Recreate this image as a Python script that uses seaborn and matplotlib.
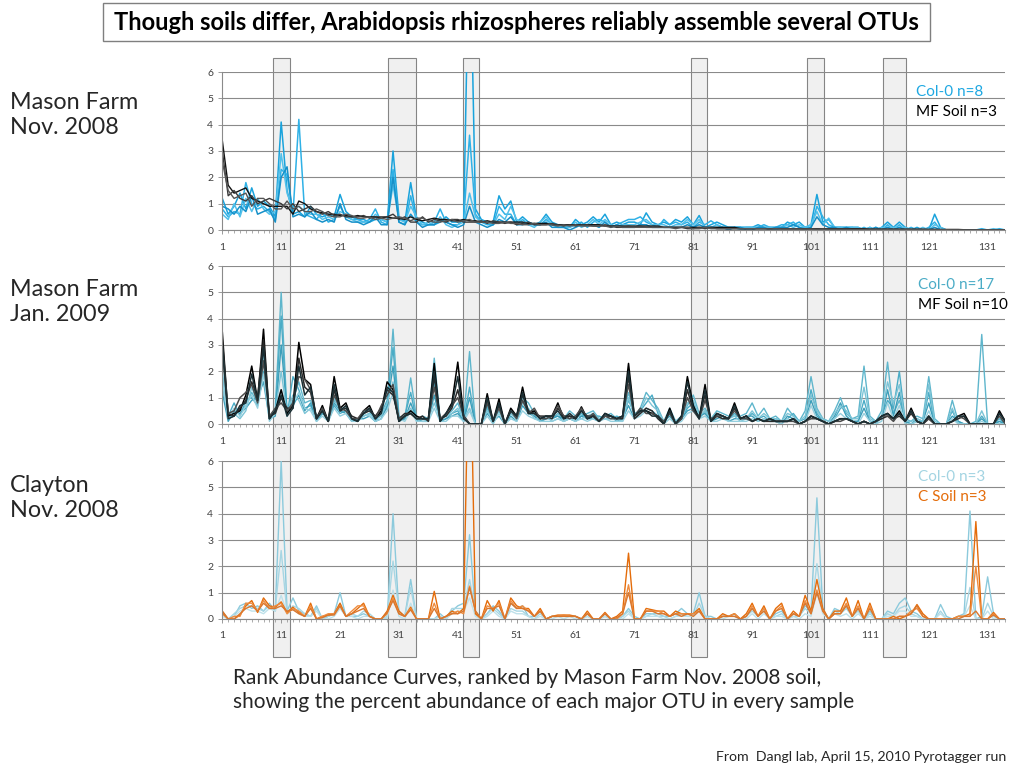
import numpy as np
import matplotlib
matplotlib.use("Agg")
import matplotlib.pyplot as plt
from matplotlib.patches import Rectangle
from matplotlib.ticker import MultipleLocator
from matplotlib.transforms import blended_transform_factory
import seaborn as sns

# percent abundance of each OTU (rank 1..134)
# --- Mason Farm Nov. 2008 ---
nov08_col0 = [
    [1.2,0.6,0.9,1.4,0.8,1.6,0.9,1.1,0.9,0.5, 4.1,1.5,0.6,0.7,0.5,0.9,0.6,0.5,0.6,0.5,
     1.35,0.7,0.5,0.4,0.4,0.3,0.4,0.4,0.3,3.0, 0.5,0.3,1.8,0.4,0.3,0.2,0.2,0.3,0.5,0.3,
     0.3,0.4,12.0,0.8,0.4,0.3,0.3,1.3,0.8,1.1, 0.3,0.5,0.3,0.2,0.3,0.6,0.3,0.2,0.2,0.1,
     0.4,0.2,0.3,0.5,0.3,0.6,0.2,0.3,0.2,0.3, 0.3,0.2,0.65,0.3,0.2,0.3,0.2,0.4,0.3,0.5,
     0.2,0.55,0.1,0.2,0.3,0.2,0.1,0.1,0.1,0.1, 0.1,0.2,0.1,0.1,0.1,0.1,0.3,0.2,0.3,0.1,
     0.2,1.35,0.3,0.4,0.1,0.1,0.1,0.1,0.1,0.0, 0.1,0.0,0.1,0.3,0.1,0.3,0.1,0.0,0.1,0.0,
     0.0,0.6,0.1,0.0,0.0,0.0,0.0,0.0,0.0,0.0,0.0,0.0,0.0,0.0],
    [0.8,0.5,0.7,0.6,1.8,1.0,0.8,0.9,0.7,0.4, 2.3,2.1,0.6,4.2,0.6,0.5,0.4,0.7,0.3,0.4,
     0.9,0.5,0.4,0.4,0.3,0.4,0.8,0.3,0.2,2.3, 0.3,0.2,1.3,0.3,0.2,0.2,0.3,0.8,0.3,0.2,
     0.2,0.4,3.6,0.6,0.3,0.2,0.2,0.9,0.6,0.6, 0.2,0.4,0.2,0.2,0.2,0.4,0.2,0.1,0.1,0.1,
     0.2,0.3,0.1,0.3,0.4,0.3,0.1,0.2,0.3,0.4, 0.4,0.5,0.3,0.2,0.1,0.4,0.2,0.3,0.2,0.3,
     0.1,0.3,0.2,0.35,0.2,0.1,0.1,0.1,0.1,0.1, 0.1,0.1,0.2,0.1,0.1,0.2,0.2,0.3,0.1,0.1,
     0.1,0.9,0.5,0.2,0.1,0.1,0.1,0.1,0.0,0.1, 0.0,0.1,0.0,0.2,0.0,0.2,0.0,0.1,0.0,0.0,
     0.1,0.3,0.0,0.0,0.0,0.0,0.0,0.0,0.0,0.05,0.0,0.0,0.05,0.0],
    [0.6,0.4,1.0,0.5,1.2,0.7,1.2,0.8,0.6,0.7, 2.9,1.4,0.8,0.9,0.7,0.6,0.6,0.4,0.5,0.4,
     0.7,0.6,0.4,0.3,0.3,0.3,0.6,0.4,0.3,1.7, 0.4,0.3,0.9,0.5,0.2,0.3,0.2,0.5,0.2,0.1,
     0.2,0.3,1.4,0.5,0.3,0.3,0.2,0.6,0.4,0.9, 0.4,0.3,0.2,0.1,0.3,0.5,0.2,0.2,0.1,0.1,
     0.3,0.1,0.2,0.4,0.2,0.4,0.2,0.1,0.2,0.2, 0.2,0.3,0.4,0.2,0.2,0.2,0.1,0.2,0.2,0.4,
     0.2,0.4,0.1,0.1,0.2,0.1,0.1,0.1,0.0,0.1, 0.1,0.1,0.1,0.1,0.0,0.1,0.2,0.1,0.2,0.1,
     0.2,0.7,0.2,0.45,0.1,0.1,0.0,0.1,0.1,0.0, 0.1,0.0,0.1,0.1,0.1,0.1,0.1,0.0,0.0,0.1,
     0.0,0.2,0.1,0.0,0.0,0.0,0.0,0.0,0.0,0.0,0.0,0.05,0.0,0.0],
    [0.9,0.8,0.6,0.9,0.7,1.3,0.6,0.7,0.8,0.3, 2.0,2.4,0.5,0.6,0.5,0.7,0.4,0.3,0.4,0.3,
     1.0,0.4,0.3,0.3,0.2,0.3,0.5,0.2,0.2,2.0, 0.3,0.2,0.6,0.3,0.1,0.2,0.2,0.4,0.3,0.2,
     0.1,0.2,0.9,0.3,0.2,0.1,0.2,0.4,0.3,0.5, 0.2,0.2,0.3,0.2,0.2,0.3,0.1,0.1,0.1,0.0,
     0.1,0.2,0.2,0.2,0.1,0.3,0.1,0.2,0.1,0.1, 0.1,0.2,0.2,0.1,0.1,0.1,0.1,0.1,0.1,0.2,
     0.1,0.2,0.1,0.1,0.1,0.1,0.0,0.1,0.1,0.0, 0.0,0.1,0.1,0.0,0.1,0.1,0.1,0.2,0.1,0.0,
     0.1,0.5,0.2,0.1,0.1,0.0,0.1,0.0,0.0,0.0, 0.0,0.1,0.0,0.1,0.0,0.1,0.0,0.0,0.0,0.0,
     0.0,0.1,0.0,0.0,0.0,0.0,0.0,0.0,0.0,0.0,0.0,0.0,0.0,0.0],
]
nov08_soil = [
    [3.4,1.7,1.4,1.5,1.6,1.2,1.1,1.0,0.9,0.9, 0.9,0.9,0.6,1.1,1.0,0.8,0.7,0.65,0.6,0.6,
     0.55,0.55,0.5,0.55,0.5,0.5,0.5,0.45,0.5,0.45, 0.45,0.4,0.5,0.4,0.35,0.4,0.45,0.4,0.4,0.35,
     0.35,0.4,0.35,0.35,0.3,0.35,0.3,0.3,0.3,0.3, 0.3,0.3,0.25,0.25,0.25,0.25,0.2,0.2,0.2,0.2,
     0.2,0.2,0.2,0.2,0.2,0.15,0.15,0.15,0.15,0.15, 0.15,0.15,0.15,0.15,0.15,0.1,0.1,0.1,0.1,0.1,
     0.1,0.1,0.1,0.1,0.1,0.1,0.1,0.1,0.05,0.05, 0.05,0.05,0.05,0.05,0.05,0.05,0.05,0.05,0.05,0.05,
     0.05,0.05,0.05,0.05,0.05,0.05,0.05,0.05,0.05,0.05, 0.03,0.03,0.03,0.03,0.03,0.03,0.03,0.03,0.03,0.03,
     0.02,0.02,0.02,0.02,0.02,0.02,0.01,0.0,0.0,0.0,0.0,0.0,0.0,0.0],
    [3.0,1.3,1.5,1.2,1.1,1.3,1.0,1.1,1.2,1.1, 1.0,0.8,1.0,0.7,0.8,0.9,0.7,0.6,0.7,0.55,
     0.6,0.5,0.5,0.5,0.55,0.45,0.5,0.5,0.5,0.6, 0.4,0.5,0.3,0.3,0.5,0.3,0.4,0.35,0.3,0.4,
     0.4,0.3,0.3,0.3,0.35,0.25,0.35,0.3,0.25,0.3, 0.2,0.25,0.3,0.2,0.2,0.2,0.25,0.2,0.15,0.2,
     0.15,0.2,0.2,0.15,0.15,0.2,0.15,0.1,0.1,0.15, 0.1,0.15,0.1,0.1,0.1,0.1,0.1,0.1,0.1,0.05,
     0.05,0.1,0.05,0.1,0.05,0.05,0.05,0.05,0.05,0.05, 0.05,0.05,0.05,0.05,0.05,0.05,0.05,0.05,0.05,0.05,
     0.05,0.03,0.05,0.03,0.03,0.03,0.03,0.03,0.03,0.03, 0.03,0.03,0.03,0.03,0.03,0.02,0.02,0.02,0.02,0.02,
     0.02,0.02,0.01,0.01,0.01,0.01,0.0,0.0,0.0,0.0,0.0,0.0,0.0,0.0],
    [2.6,1.5,1.2,1.3,1.4,0.9,1.2,1.2,1.0,0.8, 0.8,1.1,0.8,0.9,0.7,0.7,0.8,0.7,0.55,0.5,
     0.5,0.6,0.55,0.45,0.45,0.5,0.4,0.45,0.4,0.45, 0.5,0.45,0.35,0.45,0.45,0.35,0.3,0.3,0.35,0.4,
     0.3,0.35,0.4,0.3,0.3,0.3,0.25,0.25,0.3,0.25, 0.25,0.2,0.2,0.25,0.2,0.2,0.2,0.15,0.2,0.15,
     0.2,0.15,0.15,0.15,0.15,0.15,0.1,0.15,0.1,0.1, 0.1,0.1,0.1,0.1,0.1,0.1,0.1,0.05,0.1,0.1,
     0.05,0.05,0.1,0.05,0.05,0.05,0.05,0.05,0.05,0.05, 0.05,0.05,0.05,0.03,0.05,0.03,0.03,0.03,0.03,0.03,
     0.03,0.03,0.03,0.03,0.03,0.03,0.03,0.02,0.02,0.02, 0.02,0.02,0.02,0.02,0.02,0.02,0.02,0.02,0.01,0.01,
     0.01,0.01,0.01,0.01,0.0,0.0,0.0,0.0,0.0,0.0,0.0,0.0,0.0,0.0],
]

# --- Mason Farm Jan. 2009 ---
jan09_col0 = [
    [1.9,0.2,0.3,0.5,0.7,1.2,0.8,2.4,0.2,0.6, 5.0,0.4,0.9,1.6,0.8,0.9,0.3,0.5,0.1,0.9,
     0.6,0.6,0.1,0.2,0.3,0.4,0.2,0.3,0.6,3.6, 0.3,0.2,1.75,0.2,0.2,0.1,2.5,0.2,0.3,0.5,
     0.8,0.2,2.75,0.0,0.0,0.6,0.1,0.5,0.0,0.4, 0.2,1.0,0.8,0.4,0.2,0.3,0.2,0.4,0.2,0.5,
     0.3,0.3,0.4,0.5,0.2,0.3,0.4,0.2,0.3,1.2, 0.3,0.6,1.2,0.9,0.6,0.1,0.6,0.1,0.3,0.7,
     1.1,0.4,0.6,0.2,0.5,0.4,0.3,0.3,0.3,0.4, 0.8,0.3,0.6,0.2,0.3,0.1,0.6,0.3,0.1,0.5,
     1.8,0.6,0.2,0.1,0.5,1.0,0.4,0.2,0.3,2.2, 0.3,0.1,0.5,2.35,0.4,0.9,0.2,0.1,0.3,0.2,
     1.8,0.2,0.0,0.0,0.9,0.1,0.0,0.0,0.1,3.4,0.0,0.0,0.1,0.0],
    [1.5,0.3,0.8,0.3,0.9,1.0,0.7,2.0,0.3,0.4, 4.1,0.3,1.8,1.3,0.6,0.7,0.2,0.6,0.1,0.7,
     0.4,0.5,0.2,0.1,0.5,0.5,0.1,0.4,0.9,2.9, 0.2,0.3,1.2,0.1,0.3,0.2,1.6,0.1,0.2,0.4,
     0.5,0.1,1.4,0.0,0.0,0.7,0.0,0.8,0.0,0.5, 0.3,0.9,0.5,0.3,0.1,0.2,0.3,0.3,0.1,0.2,
     0.2,0.4,0.2,0.3,0.3,0.2,0.2,0.3,0.2,0.9, 0.4,0.5,0.8,1.1,0.4,0.0,0.4,0.1,0.2,0.6,
     0.8,0.2,0.5,0.1,0.3,0.2,0.2,0.4,0.2,0.2, 0.4,0.2,0.3,0.1,0.2,0.1,0.2,0.4,0.1,0.2,
     1.3,0.4,0.1,0.0,0.2,0.6,0.7,0.1,0.1,0.9, 0.1,0.0,0.3,0.9,0.6,2.0,0.1,0.0,0.2,0.1,
     1.2,0.0,0.0,0.0,0.5,0.0,0.0,0.0,0.0,0.3,0.0,0.0,0.2,0.0],
    [1.2,0.1,0.5,0.4,0.6,0.9,1.0,1.6,0.2,0.3, 3.0,0.5,0.7,1.1,0.5,0.8,0.1,0.4,0.2,0.8,
     0.5,0.4,0.1,0.2,0.2,0.3,0.1,0.2,0.7,2.2, 0.1,0.2,0.8,0.2,0.1,0.1,1.1,0.1,0.2,0.3,
     0.4,0.1,1.0,0.0,0.0,0.4,0.1,0.3,0.0,0.3, 0.1,0.7,0.4,0.3,0.1,0.2,0.2,0.3,0.2,0.2,
     0.1,0.3,0.2,0.2,0.1,0.3,0.3,0.1,0.2,0.7, 0.2,0.4,0.6,0.5,0.3,0.1,0.3,0.0,0.2,0.5,
     0.6,0.3,0.4,0.1,0.2,0.3,0.1,0.2,0.2,0.3, 0.3,0.1,0.2,0.1,0.1,0.0,0.3,0.2,0.0,0.1,
     0.9,0.3,0.1,0.0,0.3,0.8,0.3,0.1,0.1,0.6, 0.1,0.1,0.2,1.3,0.3,1.2,0.1,0.0,0.1,0.1,
     0.8,0.0,0.0,0.0,0.3,0.1,0.0,0.0,0.0,0.2,0.0,0.0,0.1,0.0],
    [2.0,0.3,0.4,0.2,0.5,1.4,0.8,2.6,0.3,0.5, 2.0,0.4,1.1,0.9,0.4,0.6,0.2,0.5,0.1,1.0,
     0.5,0.6,0.2,0.1,0.3,0.4,0.2,0.3,0.8,1.6, 0.1,0.3,0.6,0.2,0.2,0.2,0.8,0.2,0.3,0.4,
     0.6,0.2,0.6,0.0,0.0,0.5,0.1,0.6,0.0,0.4, 0.2,0.8,0.6,0.2,0.2,0.3,0.1,0.2,0.1,0.3,
     0.2,0.2,0.3,0.4,0.2,0.2,0.2,0.2,0.1,1.0, 0.3,0.5,1.0,0.7,0.5,0.1,0.5,0.1,0.2,0.8,
     0.9,0.3,0.5,0.2,0.3,0.3,0.2,0.3,0.1,0.2, 0.5,0.2,0.4,0.2,0.2,0.1,0.4,0.3,0.1,0.3,
     1.1,0.5,0.2,0.1,0.4,0.7,0.5,0.2,0.2,1.4, 0.2,0.1,0.3,1.6,0.8,1.5,0.1,0.1,0.2,0.1,
     1.5,0.1,0.0,0.0,0.6,0.0,0.0,0.0,0.0,0.5,0.0,0.0,0.0,0.0],
    [1.6,0.2,0.6,0.3,0.7,1.1,0.6,1.9,0.1,0.4, 1.3,0.3,0.8,1.2,0.6,0.5,0.1,0.3,0.1,0.6,
     0.3,0.4,0.1,0.1,0.4,0.3,0.1,0.2,0.5,1.2, 0.2,0.1,0.5,0.1,0.1,0.1,0.6,0.1,0.1,0.3,
     0.3,0.1,0.5,0.0,0.0,0.3,0.0,0.4,0.0,0.2, 0.1,0.5,0.3,0.2,0.1,0.1,0.1,0.2,0.1,0.2,
     0.1,0.2,0.1,0.2,0.1,0.2,0.1,0.1,0.1,0.5, 0.2,0.3,0.5,0.4,0.2,0.0,0.2,0.0,0.1,0.4,
     0.5,0.2,0.3,0.1,0.1,0.2,0.1,0.1,0.1,0.1, 0.2,0.1,0.2,0.1,0.1,0.0,0.2,0.1,0.0,0.1,
     0.7,0.2,0.1,0.0,0.2,0.4,0.2,0.1,0.0,0.4, 0.1,0.0,0.1,0.8,0.2,0.7,0.0,0.0,0.1,0.0,
     0.5,0.0,0.0,0.0,0.2,0.0,0.0,0.0,0.0,0.1,0.0,0.0,0.0,0.0],
]
jan09_soil = [
    [3.5,0.3,0.4,0.5,1.1,2.2,0.9,3.6,0.2,0.5, 1.3,0.4,0.7,3.1,1.7,1.5,0.2,0.7,0.1,1.8,
     0.6,0.8,0.2,0.1,0.5,0.7,0.2,0.5,1.6,1.3, 0.1,0.3,0.5,0.3,0.2,0.2,2.3,0.1,0.4,0.8,
     2.35,0.3,0.0,0.0,0.0,1.15,0.1,0.95,0.0,0.6, 0.3,1.4,0.4,0.5,0.2,0.3,0.3,0.8,0.2,0.3,
     0.2,0.65,0.2,0.3,0.1,0.4,0.3,0.2,0.3,2.3, 0.3,0.5,0.5,0.4,0.3,0.0,0.6,0.0,0.3,1.8,
     0.7,0.2,1.5,0.1,0.4,0.3,0.2,0.8,0.2,0.3, 0.1,0.2,0.1,0.2,0.1,0.1,0.1,0.2,0.0,0.1,
     0.3,0.2,0.1,0.0,0.1,0.2,0.2,0.1,0.0,0.1, 0.0,0.1,0.3,0.4,0.2,0.5,0.1,0.6,0.1,0.0,
     0.3,0.0,0.0,0.0,0.1,0.3,0.4,0.0,0.0,0.0,0.0,0.0,0.5,0.1],
    [3.2,0.4,0.3,0.6,0.9,1.6,1.0,3.2,0.3,0.4, 1.0,0.6,0.6,2.5,1.4,1.2,0.2,0.5,0.1,1.3,
     0.5,0.6,0.3,0.2,0.4,0.5,0.3,0.6,1.3,1.1, 0.2,0.4,0.4,0.2,0.3,0.1,1.8,0.2,0.3,0.6,
     1.3,0.3,0.0,0.0,0.0,0.9,0.1,0.7,0.0,0.5, 0.3,1.1,0.5,0.4,0.3,0.3,0.2,0.6,0.3,0.3,
     0.2,0.5,0.3,0.3,0.1,0.3,0.3,0.2,0.2,1.8, 0.2,0.4,0.6,0.5,0.2,0.0,0.5,0.0,0.2,1.3,
     0.5,0.3,1.1,0.1,0.3,0.2,0.2,0.6,0.2,0.3, 0.1,0.2,0.1,0.1,0.1,0.1,0.1,0.2,0.0,0.1,
     0.3,0.2,0.1,0.0,0.1,0.2,0.2,0.1,0.0,0.1, 0.0,0.1,0.2,0.3,0.2,0.3,0.1,0.4,0.1,0.0,
     0.2,0.0,0.0,0.0,0.1,0.2,0.3,0.0,0.0,0.0,0.0,0.0,0.4,0.1],
    [2.8,0.4,0.5,1.0,1.2,1.5,0.8,2.4,0.3,0.6, 0.8,0.5,0.8,1.8,1.7,1.3,0.2,0.6,0.1,1.1,
     0.6,0.5,0.2,0.2,0.5,0.6,0.2,0.7,1.1,1.5, 0.2,0.3,0.4,0.2,0.2,0.2,1.4,0.2,0.4,0.7,
     1.0,0.3,0.0,0.0,0.0,0.8,0.1,0.6,0.0,0.5, 0.2,0.9,0.4,0.6,0.2,0.2,0.3,0.7,0.3,0.2,
     0.3,0.6,0.2,0.4,0.1,0.3,0.2,0.2,0.3,1.5, 0.3,0.6,0.4,0.4,0.3,0.1,0.4,0.0,0.2,1.0,
     0.5,0.2,0.9,0.2,0.3,0.3,0.2,0.5,0.2,0.2, 0.1,0.2,0.1,0.2,0.1,0.1,0.1,0.1,0.0,0.1,
     0.2,0.2,0.1,0.0,0.1,0.1,0.2,0.1,0.0,0.1, 0.0,0.1,0.3,0.3,0.1,0.4,0.1,0.5,0.1,0.0,
     0.2,0.0,0.0,0.0,0.1,0.3,0.2,0.0,0.0,0.0,0.0,0.0,0.3,0.0],
    [3.0,0.2,0.3,0.7,0.8,1.9,0.9,2.9,0.2,0.5, 1.1,0.3,0.6,2.2,1.1,1.4,0.2,0.5,0.1,1.5,
     0.5,0.7,0.2,0.1,0.4,0.6,0.2,0.4,1.4,1.2, 0.1,0.3,0.4,0.2,0.2,0.2,2.0,0.1,0.4,0.7,
     1.8,0.2,0.0,0.0,0.0,1.0,0.1,0.8,0.0,0.5, 0.3,1.2,0.4,0.4,0.2,0.3,0.3,0.5,0.2,0.4,
     0.2,0.5,0.2,0.3,0.1,0.4,0.3,0.2,0.3,2.0, 0.3,0.5,0.5,0.3,0.3,0.0,0.5,0.0,0.3,1.6,
     0.6,0.2,1.3,0.1,0.4,0.3,0.2,0.7,0.2,0.3, 0.1,0.2,0.1,0.2,0.1,0.1,0.1,0.2,0.0,0.1,
     0.3,0.2,0.1,0.0,0.1,0.2,0.2,0.1,0.0,0.1, 0.0,0.1,0.3,0.4,0.2,0.4,0.1,0.5,0.1,0.0,
     0.3,0.0,0.0,0.0,0.1,0.3,0.3,0.0,0.0,0.0,0.0,0.0,0.4,0.1],
]

# --- Clayton Nov. 2008 ---
clay_col0 = [
    [0.2,0.0,0.1,0.5,0.6,0.4,0.5,0.3,0.6,0.3, 6.0,0.3,0.8,0.3,0.2,0.1,0.5,0.0,0.1,0.2,
     1.0,0.1,0.1,0.1,0.2,0.1,0.0,0.0,0.0,4.0, 0.2,0.1,1.5,0.0,0.0,0.0,0.0,0.2,0.0,0.3,
     0.5,0.6,3.2,0.2,0.0,0.2,0.5,0.3,0.0,0.6, 0.4,0.5,0.1,0.1,0.3,0.0,0.1,0.1,0.1,0.1,
     0.1,0.0,0.2,0.0,0.0,0.1,0.0,0.0,0.1,0.4, 0.1,0.0,0.2,0.2,0.2,0.1,0.1,0.2,0.4,0.2,
     0.2,1.0,0.1,0.1,0.0,0.1,0.1,0.2,0.0,0.1, 0.4,0.1,0.4,0.0,0.2,0.3,0.0,0.2,0.1,0.5,
     0.3,4.6,0.4,0.0,0.4,0.3,0.5,0.1,0.4,0.0, 0.3,0.0,0.0,0.3,0.2,0.6,0.8,0.3,0.2,0.0,
     0.0,0.0,0.55,0.1,0.0,0.1,0.2,4.1,0.0,0.1,1.6,0.2,0.0,0.0],
    [0.3,0.0,0.2,0.4,0.5,0.5,0.4,0.3,0.5,0.4, 2.6,0.2,0.5,0.4,0.2,0.1,0.4,0.0,0.1,0.2,
     0.6,0.1,0.2,0.1,0.3,0.2,0.0,0.0,0.1,2.2, 0.3,0.1,1.2,0.0,0.0,0.0,0.0,0.1,0.0,0.4,
     0.4,0.4,1.5,0.3,0.0,0.2,0.4,0.2,0.0,0.4, 0.3,0.3,0.1,0.0,0.2,0.0,0.1,0.1,0.1,0.1,
     0.1,0.0,0.1,0.0,0.0,0.2,0.0,0.0,0.1,0.3, 0.0,0.0,0.1,0.2,0.1,0.1,0.0,0.1,0.2,0.1,
     0.1,0.6,0.1,0.0,0.0,0.1,0.1,0.1,0.0,0.1, 0.3,0.1,0.3,0.0,0.1,0.2,0.0,0.1,0.1,0.4,
     0.2,2.1,0.3,0.0,0.3,0.2,0.4,0.1,0.3,0.0, 0.2,0.0,0.0,0.2,0.1,0.4,0.5,0.2,0.1,0.0,
     0.0,0.0,0.3,0.0,0.0,0.1,0.1,1.2,0.0,0.0,0.6,0.1,0.0,0.0],
    [0.1,0.0,0.1,0.3,0.4,0.3,0.3,0.2,0.4,0.3, 0.9,0.2,0.4,0.2,0.1,0.1,0.3,0.0,0.0,0.1,
     0.4,0.1,0.1,0.0,0.1,0.1,0.0,0.0,0.0,1.1, 0.1,0.0,0.6,0.0,0.0,0.0,0.0,0.1,0.0,0.2,
     0.3,0.3,0.8,0.1,0.0,0.1,0.3,0.1,0.0,0.3, 0.2,0.2,0.1,0.0,0.1,0.0,0.0,0.1,0.0,0.1,
     0.0,0.0,0.1,0.0,0.0,0.1,0.0,0.0,0.0,0.2, 0.0,0.0,0.1,0.1,0.1,0.0,0.0,0.1,0.1,0.1,
     0.1,0.4,0.0,0.0,0.0,0.0,0.1,0.1,0.0,0.0, 0.2,0.0,0.2,0.0,0.1,0.1,0.0,0.1,0.0,0.2,
     0.1,1.0,0.2,0.0,0.2,0.1,0.2,0.0,0.2,0.0, 0.1,0.0,0.0,0.1,0.1,0.3,0.3,0.1,0.1,0.0,
     0.0,0.0,0.2,0.0,0.0,0.0,0.1,0.5,0.0,0.0,0.3,0.0,0.0,0.0],
]
clay_soil = [
    [0.3,0.0,0.0,0.15,0.5,0.7,0.25,0.8,0.5,0.45, 0.65,0.25,0.45,0.25,0.1,0.6,0.0,0.1,0.15,0.2,
     0.6,0.1,0.2,0.4,0.6,0.1,0.0,0.0,0.3,0.9, 0.3,0.1,0.45,0.0,0.0,0.0,1.05,0.0,0.1,0.3,
     0.2,0.4,12.0,0.2,0.0,0.7,0.3,0.7,0.0,0.8, 0.5,0.4,0.4,0.1,0.4,0.0,0.1,0.15,0.15,0.15,
     0.1,0.0,0.3,0.0,0.0,0.25,0.0,0.1,0.3,2.5, 0.0,0.0,0.4,0.35,0.3,0.3,0.1,0.3,0.2,0.2,
     0.2,0.4,0.0,0.0,0.0,0.2,0.1,0.2,0.0,0.2, 0.6,0.1,0.5,0.0,0.4,0.6,0.0,0.3,0.1,0.9,
     0.3,1.5,0.4,0.0,0.3,0.3,0.8,0.1,0.7,0.0, 0.6,0.0,0.0,0.0,0.1,0.0,0.1,0.2,0.55,0.2,
     0.0,0.0,0.0,0.0,0.0,0.1,0.1,0.2,3.7,0.0,0.0,0.25,0.0,0.0],
    [0.2,0.0,0.1,0.1,0.6,0.6,0.3,0.7,0.4,0.5, 0.6,0.2,0.4,0.3,0.1,0.5,0.0,0.1,0.2,0.2,
     0.5,0.1,0.3,0.5,0.5,0.1,0.0,0.0,0.2,0.8, 0.2,0.1,0.4,0.0,0.0,0.0,0.6,0.0,0.1,0.2,
     0.3,0.2,1.25,0.3,0.0,0.5,0.4,0.6,0.0,0.7, 0.4,0.5,0.3,0.1,0.3,0.0,0.1,0.1,0.15,0.1,
     0.1,0.0,0.2,0.0,0.0,0.2,0.0,0.0,0.2,1.3, 0.0,0.0,0.3,0.3,0.3,0.2,0.1,0.2,0.2,0.2,
     0.2,0.3,0.0,0.0,0.0,0.1,0.1,0.2,0.0,0.1, 0.5,0.1,0.4,0.0,0.3,0.5,0.0,0.2,0.1,0.7,
     0.2,1.1,0.3,0.0,0.2,0.2,0.6,0.1,0.5,0.0, 0.5,0.0,0.0,0.0,0.0,0.1,0.1,0.3,0.4,0.1,
     0.0,0.0,0.0,0.0,0.0,0.1,0.1,0.1,2.0,0.0,0.0,0.2,0.0,0.0],
    [0.25,0.0,0.0,0.2,0.4,0.5,0.3,0.6,0.4,0.4, 0.5,0.3,0.35,0.2,0.1,0.4,0.0,0.05,0.15,0.15,
     0.5,0.1,0.2,0.3,0.4,0.1,0.0,0.0,0.25,0.7, 0.2,0.1,0.35,0.0,0.0,0.0,0.4,0.0,0.1,0.2,
     0.2,0.3,1.2,0.3,0.0,0.4,0.4,0.5,0.0,0.6, 0.4,0.4,0.3,0.1,0.3,0.0,0.1,0.1,0.1,0.1,
     0.1,0.0,0.2,0.0,0.0,0.2,0.0,0.05,0.2,1.0, 0.0,0.0,0.3,0.3,0.2,0.2,0.1,0.2,0.1,0.2,
     0.1,0.3,0.0,0.0,0.0,0.1,0.1,0.1,0.0,0.1, 0.4,0.1,0.3,0.0,0.3,0.4,0.0,0.2,0.1,0.6,
     0.2,1.0,0.3,0.0,0.2,0.2,0.5,0.1,0.4,0.0, 0.4,0.0,0.0,0.0,0.0,0.1,0.1,0.2,0.5,0.1,
     0.0,0.0,0.0,0.0,0.0,0.0,0.1,0.1,0.3,0.0,0.0,0.15,0.0,0.0],
]

# highlighted OTU rank ranges (grey columns)
band_start = [9.6, 29.1, 41.9, 80.6, 100.3, 113.2]
band_end = [12.5, 33.9, 44.6, 83.3, 103.2, 117.1]

x_ticks = list(range(1, 132, 10))
y_ticks = [0, 1, 2, 3, 4, 5, 6]

sns.set_theme(style="white")
plt.rcParams['font.family'] = ['Lato', 'DejaVu Sans']

fig = plt.figure(figsize=(10.24, 7.68), dpi=100)

ax_left, ax_w, ax_h = 222.3 / 1024, 783 / 1024, 158 / 768
panel_bottoms = [1 - 230 / 768, 1 - 424 / 768, 1 - 619 / 768]
axes = [fig.add_axes([ax_left, b, ax_w, ax_h]) for b in panel_bottoms]


def style_axis(ax):
    ax.set_facecolor('none')
    ax.set_xlim(1, 134)
    ax.set_ylim(0, 6)
    ax.set_xticks(x_ticks)
    ax.set_yticks(y_ticks)
    ax.xaxis.set_minor_locator(MultipleLocator(1))
    ax.grid(False)
    ax.grid(axis='y', color='#8a8a8a', lw=0.8, zorder=0)
    for s in ['top', 'right']:
        ax.spines[s].set_visible(False)
    for s in ['left', 'bottom']:
        ax.spines[s].set_color('#8a8a8a')
        ax.spines[s].set_linewidth(0.8)
    ax.tick_params(axis='both', which='major', labelsize=7.5, labelcolor='#404040',
                   color='#8a8a8a', length=3, width=0.6, direction='out',
                   bottom=True, left=True)
    ax.tick_params(axis='x', which='minor', color='#8a8a8a', length=2.5, width=0.5,
                   bottom=True)
    ax.tick_params(axis='x', which='major', pad=6)
    ax.set_xlabel('')
    ax.set_ylabel('')


def draw_group(ax, series, colors, lw):
    for vals, c in zip(series, colors):
        rank = np.arange(1, len(vals) + 1)
        sns.lineplot(x=rank, y=vals, ax=ax, color=c, lw=lw, legend=False)


# panel 1
draw_group(axes[0], nov08_col0, ['#1aa3dc', '#2fb1e6', '#52c0ea', '#1690c8'], 1.1)
draw_group(axes[0], nov08_soil, ['#111111', '#3a3a3a', '#555555'], 1.0)
# panel 2
draw_group(axes[1], jan09_col0, ['#5fb6cc', '#4bacc6', '#3d9fba', '#7cc4d6', '#95cfde'], 1.0)
draw_group(axes[1], jan09_soil, ['#000000', '#2a2a2a', '#4a4a4a', '#1a2e33'], 1.1)
# panel 3
draw_group(axes[2], clay_col0, ['#8ccadc', '#a7d6e3', '#bfe1ea'], 1.0)
draw_group(axes[2], clay_soil, ['#e46c0a', '#ef8c3e', '#d9772e'], 1.0)

for ax in axes:
    style_axis(ax)

# grey highlight columns running through all three panels
band_tr = blended_transform_factory(axes[0].transData, fig.transFigure)
for x0, x1 in zip(band_start, band_end):
    fig.add_artist(Rectangle((x0, 1 - 657 / 768), x1 - x0, (657 - 58) / 768,
                             transform=band_tr, facecolor='#f0f0f0',
                             edgecolor='#858585', lw=0.8, zorder=-1))

# title box
fig.add_artist(Rectangle((103 / 1024, 1 - 41 / 768), 827 / 1024, 38 / 768,
                         transform=fig.transFigure, fill=False,
                         edgecolor='#7f7f7f', lw=1))
fig.text(516 / 1024, 1 - 22 / 768,
         'Though soils differ, Arabidopsis rhizospheres reliably assemble several OTUs',
         ha='center', va='center', fontsize=17, fontweight='bold', color='black')

# panel names
for label, ypx in [('Mason Farm\nNov. 2008', 115), ('Mason Farm\nJan. 2009', 302),
                   ('Clayton\nNov. 2008', 498)]:
    fig.text(10 / 1024, 1 - ypx / 768, label, ha='left', va='center',
             fontsize=16.8, linespacing=1.25)

# in-panel legends
legend_txt = [
    ('Col-0 n=8', '#1ea8e2', 916, 92), ('MF Soil n=3', 'black', 916, 112),
    ('Col-0 n=17', '#4bacc6', 918, 285), ('MF Soil n=10', 'black', 918, 305),
    ('Col-0 n=3', '#a3d4e2', 918, 477), ('C Soil n=3', '#e46c0a', 918, 497),
]
for t, c, xp, yp in legend_txt:
    fig.text(xp / 1024, 1 - yp / 768, t, color=c, fontsize=11, ha='left', va='center')

fig.text(233 / 1024, 1 - 690 / 768,
         'Rank Abundance Curves, ranked by Mason Farm Nov. 2008 soil,\n'
         'showing the percent abundance of each major OTU in every sample',
         ha='left', va='center', fontsize=15, linespacing=1.3)
fig.text(716 / 1024, 1 - 757 / 768, 'From  Dangl lab, April 15, 2010 Pyrotagger run',
         ha='left', va='center', fontsize=10.2)

fig.savefig('out.png', dpi=100)
